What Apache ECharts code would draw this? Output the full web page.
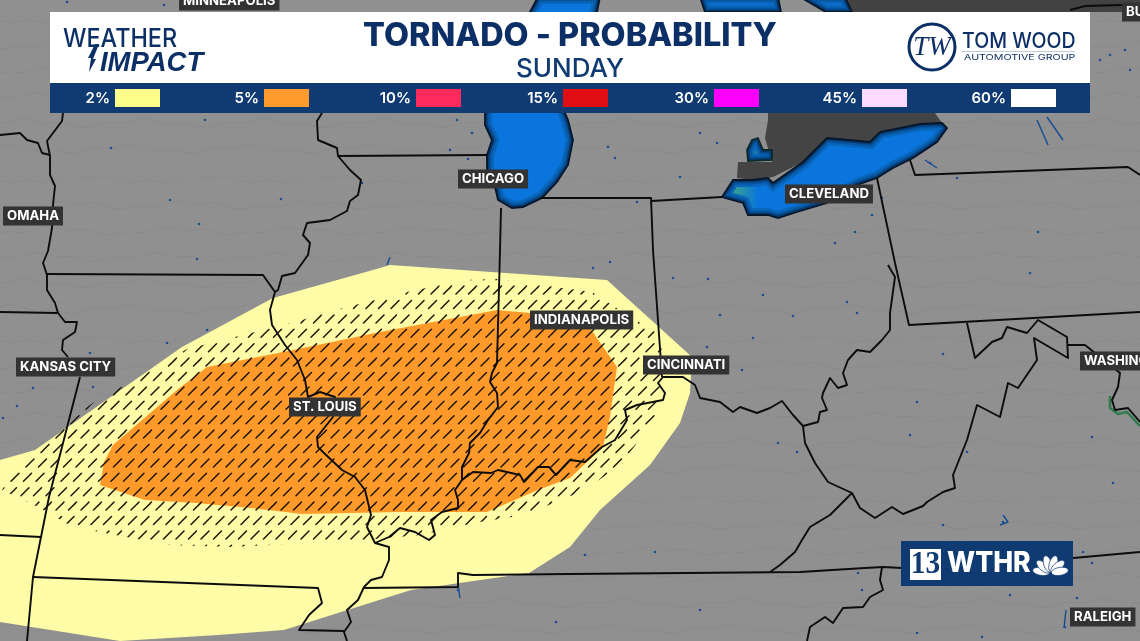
<!DOCTYPE html>
<html>
<head>
<meta charset="utf-8">
<title>Tornado - Probability</title>
<style>
html, body { margin: 0; padding: 0; background: #8f8f8f; }
#main { width: 1140px; height: 641px; }
</style>
<script src="https://cdn.jsdelivr.net/npm/echarts@6/dist/echarts.min.js"></script>
</head>
<body>
<div id="main"></div>
<script>
var legendNames = ['2%', '5%', '10%', '15%', '30%', '45%', '60%'];
var legendColors = ['#fdfd8c', '#ff9a2e', '#ff2a5c', '#e00d12', '#ff00ff', '#ffd9ff', '#ffffff'];

var cityNames = ['MINNEAPOLIS', 'CHICAGO', 'CLEVELAND', 'OMAHA', 'KANSAS CITY', 'ST. LOUIS', 'INDIANAPOLIS', 'CINCINNATI', 'WASHINGTON', 'BUFFALO', 'RALEIGH'];
var cityLeft = [179, 458, 785, 3, 16, 289, 530, 643, 1080, 1122, 1070];
var cityRow = [1, 179, 194, 216, 367, 407, 320, 365, 361, 12, 617];

var risk2 = [[0, 460], [35, 450], [182, 347], [273, 298], [380, 268], [390, 265], [607, 280], [660, 328], [692, 357], [690, 393], [680, 423], [650, 465], [600, 510], [570, 547], [529, 573], [411, 590], [284, 630], [218, 635], [120, 641], [0, 622]];
var risk5 = [[100, 485], [104, 462], [113, 445], [177, 390], [207, 367], [293, 350], [380, 332], [497, 310], [530, 313], [590, 328], [610, 357], [617, 367], [610, 417], [603, 447], [570, 478], [538, 490], [487, 512], [400, 512], [302, 514], [251, 508], [196, 503], [145, 500]];
var hatched = [[2, 490], [15, 470], [55, 430], [97, 400], [125, 385], [187, 349], [235, 337], [295, 322], [343, 308], [403, 293], [463, 280], [497, 279], [592, 292], [615, 307], [655, 332], [662, 350], [665, 385], [655, 420], [620, 465], [585, 490], [556, 502], [524, 515], [480, 522], [420, 535], [364, 540], [233, 547], [169, 545], [73, 527], [38, 507]];

var lakeMichigan = [[485, 113], [485, 125], [492, 140], [487, 155], [487, 170], [495, 187], [498, 200], [512, 208], [523, 207], [542, 198], [557, 182], [568, 165], [573, 140], [568, 120], [565, 113], [597, 12], [600, -3], [538, -3], [530, 12]];
var lakeErie = [[722, 197], [733, 180], [753, 180], [768, 178], [773, 183], [803, 162], [827, 138], [870, 142], [880, 132], [920, 124], [942, 123], [947, 128], [937, 142], [913, 158], [893, 168], [877, 178], [857, 185], [827, 203], [797, 212], [778, 218], [768, 215], [748, 215], [743, 203], [725, 198]];
var lakeStClair = [[747, 150], [752, 140], [758, 138], [763, 150], [772, 150], [772, 160], [748, 161]];
var lakeHuron = [[700, -3], [778, -3], [781, 12], [705, 12]];
var georgianBay = [[800, -3], [845, -3], [852, 12], [826, 12]];
var ontario = [[768, 113], [768, 120], [765, 138], [772, 162], [738, 162], [737, 178], [753, 180], [773, 177], [803, 162], [827, 138], [870, 142], [880, 132], [920, 124], [942, 123], [935, 113]];
var ontarioTop = [[845, -3], [1140, -3], [1140, 12], [852, 12]];

var stateBorders = [
    [[0, 135], [20, 133], [27, 140], [38, 143], [42, 153], [50, 155]],
    [[63, 113], [62, 121], [47, 141], [50, 156], [50, 175], [55, 186], [53, 205], [52, 228], [48, 251], [43, 263], [47, 275], [47, 290], [55, 303], [58, 313], [65, 322], [77, 322], [75, 332], [63, 340], [62, 350], [68, 357]],
    [[0, 312], [57, 313]],
    [[47, 274], [263, 275], [275, 292]],
    [[322, 113], [317, 121], [318, 140], [337, 148], [338, 156], [350, 170], [361, 180], [358, 195], [350, 201], [347, 211], [330, 220], [307, 223], [303, 235], [310, 243], [308, 255], [295, 273], [282, 276], [278, 290], [275, 292], [270, 310], [272, 325], [285, 345], [297, 360], [305, 380], [308, 397], [320, 392], [335, 397], [333, 417], [317, 437], [318, 447], [324, 453], [342, 470], [355, 477], [365, 490], [371, 515], [367, 527], [375, 543], [389, 547], [389, 560], [382, 577], [371, 580], [364, 587], [358, 600], [347, 610], [351, 622], [344, 632], [347, 641]],
    [[338, 156], [487, 155]],
    [[80, 377], [62, 447], [49, 497], [41, 537], [33, 577], [27, 641]],
    [[0, 535], [41, 537]],
    [[33, 577], [318, 588], [322, 603], [309, 615], [299, 630], [344, 631]],
    [[501, 208], [500, 250], [497, 363], [492, 373], [490, 382], [497, 393], [498, 407], [488, 420], [480, 433], [470, 443], [469, 453], [462, 467], [462, 480], [455, 490], [458, 500], [458, 508], [442, 512], [431, 520], [435, 535], [429, 540], [415, 532], [400, 528], [389, 537], [375, 543]],
    [[462, 480], [473, 472], [491, 473], [498, 470], [520, 475], [524, 482], [538, 467], [549, 467], [556, 475], [570, 460], [585, 462], [602, 447], [615, 440], [627, 420], [625, 410], [637, 405], [663, 400], [665, 393], [658, 383], [663, 377], [683, 377], [695, 385], [700, 398], [720, 402], [733, 412], [740, 407], [757, 413], [770, 408], [782, 401], [793, 415], [803, 426], [818, 422], [820, 412], [827, 410], [822, 398], [823, 393], [830, 378], [838, 388], [847, 385], [843, 373], [848, 360], [857, 350], [870, 352], [882, 340], [890, 330], [890, 313], [895, 277], [888, 265]],
    [[540, 198], [651, 198], [653, 250], [662, 377]],
    [[651, 201], [722, 197]],
    [[877, 178], [895, 263], [909, 325], [1140, 312]],
    [[910, 160], [915, 175], [1128, 167], [1140, 175]],
    [[967, 323], [975, 358], [992, 342], [1002, 338], [1007, 327], [1027, 333], [1038, 320], [1067, 337], [1068, 358], [1034, 338], [1037, 360], [1018, 388], [1008, 383], [1000, 417], [977, 405], [967, 440], [953, 475], [955, 488], [943, 492], [927, 502], [923, 506], [903, 514], [892, 507], [875, 518], [860, 508], [852, 493], [828, 482], [815, 463], [805, 443], [803, 426]],
    [[852, 493], [830, 515], [810, 527], [802, 540], [795, 552], [780, 565], [770, 572]],
    [[364, 588], [458, 587], [458, 573], [473, 575], [570, 574], [800, 572], [865, 568], [883, 567], [902, 568]],
    [[1073, 558], [1140, 552]],
    [[882, 567], [880, 580], [883, 590], [870, 597], [863, 607], [843, 608], [833, 623], [825, 617], [810, 627], [807, 641]],
    [[1068, 345], [1085, 345], [1120, 373], [1118, 387], [1112, 400], [1115, 410], [1128, 408], [1140, 422]],
    [[1070, 10], [1085, 6], [1122, 5]]
];

var waterSpecks = [[111, 148], [170, 200], [199, 224], [197, 259], [281, 199], [205, 120], [362, 183], [90, 353], [33, 388], [17, 406], [3, 418], [167, 343], [207, 330], [93, 387], [673, 278], [708, 279], [593, 268], [610, 262], [742, 370], [707, 347], [720, 315], [468, 159], [608, 147], [615, 158], [457, 120], [472, 133], [450, 150], [680, 177], [637, 202], [700, 133], [717, 143], [763, 295], [793, 316], [857, 313], [872, 215], [855, 232], [835, 243], [882, 198], [1030, 273], [1038, 232], [957, 178], [930, 163], [847, 302], [753, 338], [943, 354], [917, 402], [910, 435], [1003, 522], [1092, 437], [797, 452], [778, 443], [967, 452], [1113, 483], [943, 525], [1083, 552], [1092, 563], [858, 573], [862, 590], [1010, 595], [1065, 627], [917, 633], [982, 637], [1077, 598], [458, 590], [556, 622], [585, 555], [655, 552], [700, 610], [67, 2], [164, 5], [1100, 60], [1110, 55], [1125, 50], [1130, 70]];
var waterLines = [
    [[1037, 120], [1048, 145]],
    [[1047, 117], [1063, 140]],
    [[925, 160], [937, 168]],
    [[387, 265], [390, 257]],
    [[458, 585], [460, 598]],
    [[1003, 515], [1008, 522], [1000, 525]],
    [[1066, 610], [1064, 628]]
];
var bayShore = [[1110, 396], [1110, 408], [1118, 414], [1127, 412], [1140, 426]];

var fontMain = 'Inter, "Open Sans", sans-serif';

function makeHatchTile() {
    // slanted dashes, same lattice over the whole hatched area
    var tile = document.createElement('canvas');
    tile.width = 25;
    tile.height = 72;
    var ctx = tile.getContext('2d');
    ctx.strokeStyle = '#1d130b';
    ctx.lineWidth = 1.45;
    ctx.lineCap = 'round';
    for (var row = -2; row < 8; row++) {
        for (var col = -3; col < 6; col++) {
            var cx = 10 + col * 12.5 - row * 2.5;
            var cy = 2.1 + row * 14.4;
            ctx.beginPath();
            ctx.moveTo(cx - 4, cy + 4);
            ctx.lineTo(cx + 4, cy - 4);
            ctx.stroke();
        }
    }
    return tile;
}

function makeTerrainTile() {
    var tile = document.createElement('canvas');
    tile.width = 240;
    tile.height = 160;
    var ctx = tile.getContext('2d');
    ctx.fillStyle = '#909090';
    ctx.fillRect(0, 0, 240, 160);
    ctx.lineWidth = 1;
    for (var y = 6; y < 160; y += 13) {
        ctx.strokeStyle = y % 2 ? 'rgba(70,70,70,0.07)' : 'rgba(190,190,190,0.07)';
        ctx.beginPath();
        for (var x = 0; x <= 240; x += 6) {
            var wave = Math.sin(x * Math.PI / 60 + y) * 3 + Math.sin(x * Math.PI / 20 + y * 2) * 1.5;
            if (x === 0) {
                ctx.moveTo(x, y + wave);
            } else {
                ctx.lineTo(x, y + wave);
            }
        }
        ctx.stroke();
    }
    return tile;
}

function polygonSeries(name, points, fill, z, shore) {
    return {
        name: name,
        type: 'custom',
        z: z,
        silent: true,
        coordinateSystem: 'cartesian2d',
        itemStyle: {color: typeof fill === 'string' ? fill : '#000'},
        data: points,
        encode: {x: 0, y: 1},
        renderItem: function (params, api) {
            if (params.dataIndex !== 0) {
                return;
            }
            var pts = points.map(function (p) {
                return api.coord(p);
            });
            var shapes = [{type: 'polygon', shape: {points: pts}, style: {fill: fill}}];
            if (shore) {
                // water darkens towards the shore, strokes are cut off at the outline
                [[14, '#0966bb'], [9, '#07559e'], [5, '#053a70']].forEach(function (s) {
                    shapes.push({
                        type: 'polygon',
                        shape: {points: pts},
                        style: {fill: 'none', stroke: s[1], lineWidth: s[0]},
                        clipPath: {type: 'polygon', shape: {points: pts}}
                    });
                });
                shapes.push({type: 'polygon', shape: {points: pts}, style: {fill: 'none', stroke: shore, lineWidth: 1.8}});
            }
            return {type: 'group', children: shapes};
        }
    };
}

function lineSeries(points, color, width, z) {
    return {
        type: 'line',
        data: points,
        z: z,
        silent: true,
        symbol: 'none',
        clip: false,
        lineStyle: {color: color, width: width, join: 'round'}
    };
}

function bannerGraphics() {
    var navy = '#0f3a72';
    var dark = '#0c2f66';
    var items = [
        {type: 'rect', z: 10, silent: true, shape: {x: 50, y: 12, width: 1040, height: 71}, style: {fill: '#ffffff'}},
        {type: 'rect', z: 10, silent: true, shape: {x: 50, y: 83, width: 1040, height: 30}, style: {fill: navy}},
        // weather impact mark
        {type: 'text', z: 11, silent: true, x: 63, y: 26, scaleX: 0.9, style: {text: 'WEATHER', fill: dark, font: '500 26px Inter'}},
        {type: 'text', z: 11, silent: true, x: 100, y: 49, scaleX: 0.98, style: {text: 'IMPACT', fill: dark, font: 'italic 900 28px "Liberation Sans"'}},
        {type: 'polygon', z: 12, silent: true, shape: {points: [[99, 44], [93, 59], [96, 59], [89, 72], [91, 58], [88, 58], [95, 44]]}, style: {fill: dark}},
        // tom wood mark
        {type: 'circle', z: 11, silent: true, shape: {cx: 932, cy: 47, r: 23}, style: {fill: 'none', stroke: dark, lineWidth: 3}},
        {type: 'text', z: 11, silent: true, x: 932, y: 48, style: {text: 'TW', fill: dark, font: 'italic 400 27px "Liberation Serif"', align: 'center', verticalAlign: 'middle'}},
        {type: 'text', z: 11, silent: true, x: 962, y: 31, scaleX: 0.93, style: {text: 'TOM WOOD', fill: dark, font: '500 21px Inter'}},
        {type: 'rect', z: 11, silent: true, shape: {x: 962, y: 51, width: 113, height: 1}, style: {fill: '#c3cbd8'}},
        {type: 'text', z: 11, silent: true, x: 964, y: 54, scaleX: 1.42, style: {text: 'AUTOMOTIVE GROUP', fill: dark, font: '400 7.5px Inter'}},
        // station mark
        {type: 'rect', z: 11, silent: true, shape: {x: 901, y: 541, width: 172, height: 45}, style: {fill: '#0f3a72'}},
        {type: 'rect', z: 12, silent: true, shape: {x: 910, y: 549, width: 31, height: 31}, style: {fill: '#ffffff'}},
        {type: 'text', z: 13, silent: true, x: 925.5, y: 565, scaleX: 0.95, style: {text: '13', fill: '#0f3a72', font: '700 31px "Liberation Serif"', align: 'center', verticalAlign: 'middle'}},
        {type: 'text', z: 13, silent: true, x: 947, y: 564, scaleX: 0.95, style: {text: 'WTHR', fill: '#ffffff', font: '800 28px Inter', verticalAlign: 'middle'}}
    ];
    var feathers = [-1.4, -0.85, -0.3, 0.3, 0.85, 1.4];
    feathers.forEach(function (a) {
        items.push({
            type: 'ellipse', z: 13, silent: true, x: 1050.5, y: 573, rotation: -a,
            shape: {cx: 0, cy: -9.5, rx: 4, ry: 8.5},
            style: {fill: '#ffffff', stroke: '#0f3a72', lineWidth: 0.7}
        });
    });
    return items;
}

var swatchRight = [160, 309, 461, 608, 759, 907, 1056];
var legends = legendNames.map(function (name, i) {
    return {
        data: [name],
        right: 1140 - swatchRight[i],
        top: 89,
        padding: 0,
        z: 20,
        align: 'right',
        icon: 'rect',
        itemWidth: 45,
        itemHeight: 18,
        selectedMode: false,
        textStyle: {color: '#ffffff', fontFamily: fontMain, fontWeight: 600, fontSize: 15}
    };
});

var series = [];
series.push(polygonSeries('land', [[0, 0], [1140, 0], [1140, 641], [0, 641]], {image: makeTerrainTile(), repeat: 'repeat'}, 0));
series.push(polygonSeries('ontario', ontario, '#444444', 1));
series.push(polygonSeries('ontarioTop', ontarioTop, '#424242', 1));
series.push(polygonSeries('michigan', lakeMichigan, '#0a75dc', 1, '#07162a'));
series.push(polygonSeries('huron', lakeHuron, '#0a75dc', 1, '#07162a'));
series.push(polygonSeries('georgian', georgianBay, '#0a75dc', 1, '#07162a'));
series.push(polygonSeries('stclair', lakeStClair, '#2a8a8f', 2, '#0c2a2a'));
series.push(polygonSeries('erie', lakeErie, new echarts.graphic.LinearGradient(0, 0, 1, 0, [
    {offset: 0, color: '#6da35a'},
    {offset: 0.07, color: '#2f9a9a'},
    {offset: 0.16, color: '#0a75dc'},
    {offset: 1, color: '#0a75dc'}
]), 2, '#07162a'));
waterLines.forEach(function (w) {
    series.push(lineSeries(w, '#1b4f92', 1.5, 2));
});
series.push(lineSeries(bayShore, '#2f7a4e', 2.5, 2));
series.push({
    type: 'scatter',
    z: 2,
    silent: true,
    symbolSize: 2.6,
    itemStyle: {color: '#1b4f92', opacity: 1},
    data: waterSpecks
});
series.push(polygonSeries('2%', risk2, '#fefca6', 3));
series[series.length - 1].itemStyle.color = legendColors[0];
series.push(polygonSeries('5%', risk5, '#ff9a2a', 3));
series[series.length - 1].itemStyle.color = legendColors[1];
series.push(polygonSeries('10%', [], legendColors[2], 3));
series.push(polygonSeries('15%', [], legendColors[3], 3));
series.push(polygonSeries('30%', [], legendColors[4], 3));
series.push(polygonSeries('45%', [], legendColors[5], 3));
series.push(polygonSeries('60%', [], legendColors[6], 3));
series.push(polygonSeries('hatched', hatched, {image: makeHatchTile(), repeat: 'repeat'}, 4));
stateBorders.forEach(function (b) {
    series.push(lineSeries(b, '#0c0c0c', 1.9, 5));
});
series.push({
    type: 'scatter',
    z: 6,
    silent: true,
    symbolSize: 0,
    itemStyle: {opacity: 1},
    data: cityNames.map(function (name, i) {
        return {name: name, value: [cityLeft[i], cityRow[i]]};
    }),
    label: {
        show: true,
        position: 'right',
        distance: 0,
        formatter: '{b}',
        color: '#ffffff',
        fontFamily: fontMain,
        fontWeight: 700,
        fontSize: 13.2,
        backgroundColor: '#333333',
        padding: [3, 4, 3, 4]
    }
});

var chart = echarts.init(document.getElementById('main'));
chart.setOption({
    animation: false,
    backgroundColor: '#909090',
    title: {
        text: 'TORNADO - PROBABILITY',
        subtext: 'SUNDAY',
        left: 565,
        top: 15,
        textAlign: 'center',
        z: 20,
        itemGap: 4,
        textStyle: {color: '#0c2f66', fontFamily: fontMain, fontWeight: 800, fontSize: 32.4},
        subtextStyle: {color: '#0f3a72', fontFamily: fontMain, fontWeight: 500, fontSize: 26}
    },
    legend: legends,
    grid: {left: 0, right: 0, top: 0, bottom: 0},
    xAxis: {type: 'value', min: 0, max: 1140, show: false},
    yAxis: {type: 'value', min: 0, max: 641, inverse: true, show: false},
    graphic: bannerGraphics(),
    series: series
});
</script>
</body>
</html>
